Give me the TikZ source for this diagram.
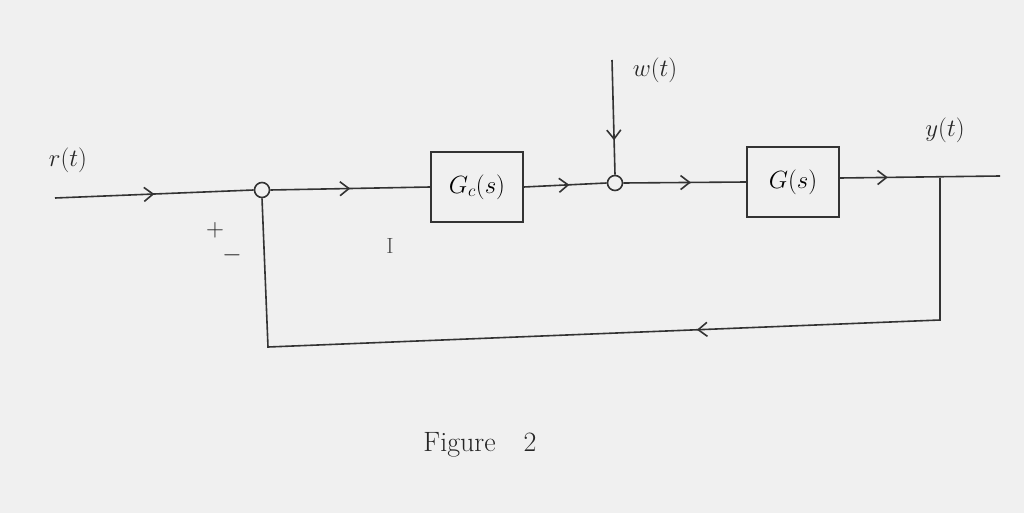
\documentclass[tikz,border=0pt]{standalone}
\usetikzlibrary{arrows.meta,decorations.markings}
\begin{document}
\begin{tikzpicture}[x=1pt,y=-1pt,
  pen/.style={draw=black!80,line width=1.6pt},
  blk/.style={pen,minimum width=92pt,minimum height=70pt,inner sep=0pt},
  sumc/.style={pen,circle,minimum size=15pt,inner sep=0pt},
  mid/.style={postaction={decorate},decoration={markings,mark=at position #1 with {\arrow{Straight Barb[length=9pt,width=14pt]}}}},
  lbl/.style={text=black!85,font=\fontsize{28}{32}\selectfont}]
\fill[black!6] (0,0) rectangle (1024,513);
\useasboundingbox (0,0) rectangle (1024,513);
\node[lbl] (r) at (68,160) {$r(t)$};
\coordinate (rin) at (55,198);
\node[sumc] (s1) at (262,190) {};
\node[blk] (gc) at (477,187) {\fontsize{26}{30}\selectfont $G_c(s)$};
\node[sumc] (s2) at (615,183) {};
\node[blk] (g) at (793,182) {\fontsize{26}{30}\selectfont $G(s)$};
\coordinate (wtop) at (612,60);
\node[lbl] (w) at (655,70) {$w(t)$};
\node[lbl] (y) at (945,130) {$y(t)$};
\coordinate (yend) at (1000,176);
\coordinate (tap) at (940,178);
\coordinate (fb1) at (940,320);
\coordinate (fb2) at (268,347);
\node[lbl] (plus) at (215,230) {$+$};
\node[lbl] (minus) at (232,255) {$-$};
\node[text=black!70,font=\fontsize{22}{24}\selectfont] (cur) at (390,246) {I};
\node[lbl] (fig) at (480,445) {Figure\quad 2};
\draw[pen,mid=0.5] (rin) -- (s1.west);
\draw[pen,mid=0.5] (s1.east) -- (gc.west);
\draw[pen,mid=0.55] (gc.east) -- (s2.west);
\draw[pen,mid=0.7] (wtop) -- (s2.north);
\draw[pen,mid=0.55] (s2.east) -- (g.west);
\draw[pen,mid=0.3] (g.east |- 178,178) -- (yend);
\draw[pen,mid=0.4] (tap) -- (fb1) -- (fb2) -- (s1.south);
\end{tikzpicture}
\end{document}
